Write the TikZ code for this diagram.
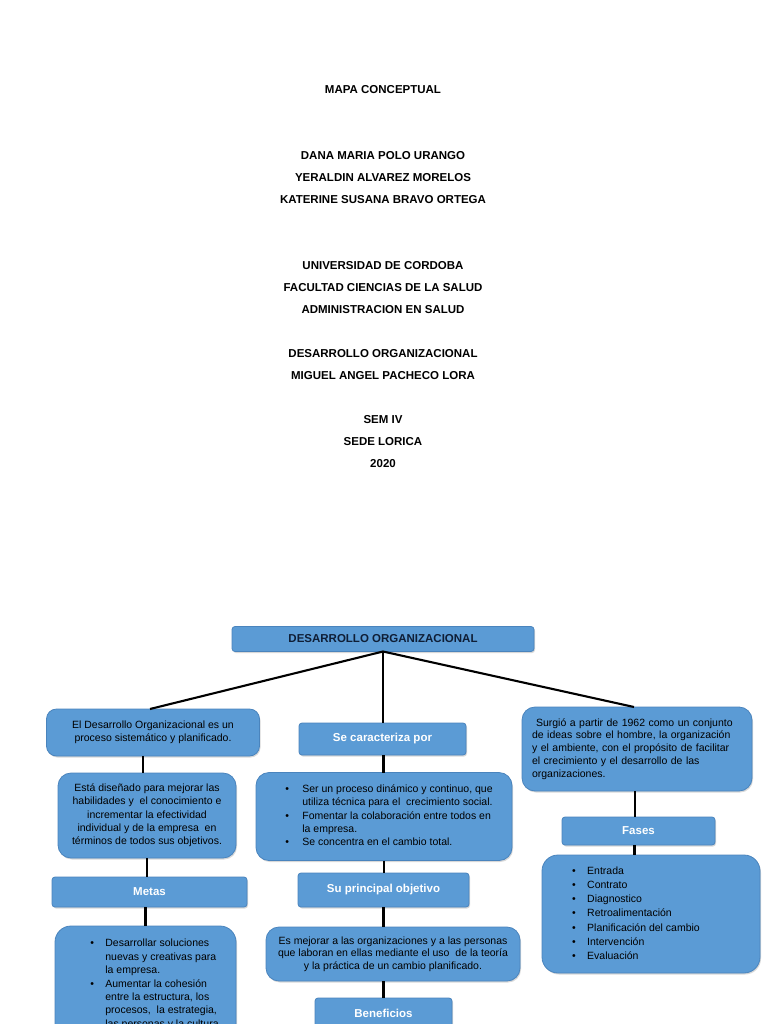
\documentclass[tikz,border=0pt]{standalone}
\usepackage{fontspec}
\setmainfont{Liberation Sans}
\usetikzlibrary{shadows}
\definecolor{boxblue}{HTML}{5B9BD5}
\definecolor{boxedge}{HTML}{4A84BD}
\definecolor{navy}{HTML}{0F1E36}
\begin{document}
\begin{tikzpicture}[x=1pt,y=-1pt,
  box/.style={draw=boxedge, line width=0.8pt, fill=boxblue,
    drop shadow={shadow xshift=1pt,shadow yshift=-1.5pt,opacity=0.3},
    inner sep=0pt, outer sep=0pt},
  lbl/.style={box, rounded corners=3pt, text=white, font=\fontsize{11.5}{13}\selectfont\bfseries},
  txt/.style={box, rounded corners=13pt, text=black, align=center},
  conn/.style={line width=2.1pt, black},
  title/.style={font=\fontsize{11.5}{22}\selectfont\bfseries, align=center, inner sep=0pt}]
\useasboundingbox (0,0) rectangle (768,1024);
\fill[white] (0,0) rectangle (768,1024);

\node[title, anchor=north] (title) at (383,85) {MAPA CONCEPTUAL\\[44pt]
DANA MARIA POLO URANGO\\
YERALDIN ALVAREZ MORELOS\\
KATERINE SUSANA BRAVO ORTEGA\\[44pt]
UNIVERSIDAD DE CORDOBA\\
FACULTAD CIENCIAS DE LA SALUD\\
ADMINISTRACION EN SALUD\\[22pt]
DESARROLLO ORGANIZACIONAL\\
MIGUEL ANGEL PACHECO LORA\\[22pt]
SEM IV\\
SEDE LORICA\\
2020};

% root
\node[lbl, text=navy, minimum width=302pt, minimum height=25pt] (root) at (383,639) {DESARROLLO ORGANIZACIONAL};

% left column
\node[txt, minimum width=213pt, minimum height=47pt, rounded corners=10pt,
  font=\fontsize{10.5}{13.3}\selectfont] (l1) at (153,732.5)
  {El Desarrollo Organizacional es un\\proceso sistemático y planificado.};
\node[txt, minimum width=178pt, minimum height=85pt,
  font=\fontsize{10.5}{13.3}\selectfont] (l2) at (147,815.5)
  {Está diseñado para mejorar las\\habilidades y\ \ el conocimiento e\\incrementar la efectividad\\individual y de la empresa\ \ en\\términos de todos sus objetivos.};
\node[lbl, minimum width=195pt, minimum height=30pt] (metas) at (149.5,892) {Metas};
\node[txt, minimum width=181pt, minimum height=117pt, rounded corners=16pt,
  font=\fontsize{10.5}{13.4}\selectfont] (mlist) at (145.5,984.5)
  {\begin{tabular}{@{\hspace{18pt}}p{15pt}@{}l@{}}
  \textbullet & Desarrollar soluciones\\
   & nuevas y creativas para\\
   & la empresa.\\
  \textbullet & Aumentar la cohesión\\
   & entre la estructura, los\\
   & procesos,\ \ la estrategia,\\
   & las personas y la cultura
  \end{tabular}};

% center column
\node[lbl, minimum width=167pt, minimum height=32pt] (c1) at (382.5,739) {Se caracteriza por};
\node[txt, minimum width=256pt, minimum height=88pt,
  font=\fontsize{10.5}{13.3}\selectfont] (clist) at (384,816.5)
  {\begin{tabular}{@{\hspace{10pt}}p{17pt}@{}l@{}}
  \textbullet & Ser un proceso dinámico y continuo, que\\
   & utiliza técnica para el\ \ crecimiento social.\\
  \textbullet & Fomentar la colaboración entre todos en\\
   & la empresa.\\
  \textbullet & Se concentra en el cambio total.
  \end{tabular}};
\node[lbl, minimum width=171pt, minimum height=34pt] (c2) at (383.5,890) {Su principal objetivo};
\node[txt, minimum width=254pt, minimum height=54pt,
  font=\fontsize{10.5}{12.7}\selectfont] (ctext) at (393,954)
  {Es mejorar a las organizaciones y a las personas\\que laboran en ellas mediante el uso\ \ de la teoría\\y la práctica de un cambio planificado.};
\node[lbl, minimum width=137pt, minimum height=30pt] (benef) at (383.5,1013) {Beneficios};

% right column
\node[txt, minimum width=230pt, minimum height=84pt, align=left, text width=210pt,
  font=\fontsize{10.5}{12.8}\selectfont] (r1) at (637,749)
  {\hspace*{4pt}Surgió a partir de 1962 como un conjunto\\de ideas sobre el hombre, la organización\\y el ambiente, con el propósito de facilitar\\el crecimiento y el desarrollo de las\\organizaciones.};
\node[lbl, minimum width=153pt, minimum height=28pt] (fases) at (638.5,831) {Fases};
\node[txt, minimum width=218pt, minimum height=118pt, rounded corners=16pt,
  font=\fontsize{10.5}{14.2}\selectfont] (flist) at (651,914)
  {\begin{tabular}{@{}p{15pt}@{}l@{\hspace{30pt}}}
  \textbullet & Entrada\\
  \textbullet & Contrato\\
  \textbullet & Diagnostico\\
  \textbullet & Retroalimentación\\
  \textbullet & Planificación del cambio\\
  \textbullet & Intervención\\
  \textbullet & Evaluación
  \end{tabular}};

% connectors
\draw[conn] (root.south) -- ([xshift=-3pt]l1.north);
\draw[conn] (root.south) -- (root.south |- c1.north);
\draw[conn] (root.south) -- ([xshift=-3pt]r1.north);
\draw[conn] ([xshift=-10pt]l1.south) -- ([xshift=-10pt]l1.south |- l2.north);
\draw[conn] (l2.south) -- (l2.south |- metas.north);
\draw[conn] (mlist.north |- metas.south) -- (mlist.north);
\draw[conn] ([xshift=1pt]c1.south) -- ([xshift=1pt]c1.south |- clist.north);
\draw[conn] (clist.south) -- (clist.south |- c2.north);
\draw[conn] (c2.south) -- (c2.south |- ctext.north);
\draw[conn] (benef.north |- ctext.south) -- (benef.north);
\draw[conn] ([xshift=-2pt]r1.south) -- ([xshift=-2pt]r1.south |- fases.north);
\draw[conn] ([xshift=-4pt]fases.south) -- ([xshift=-4pt]fases.south |- flist.north);
\end{tikzpicture}
\end{document}
